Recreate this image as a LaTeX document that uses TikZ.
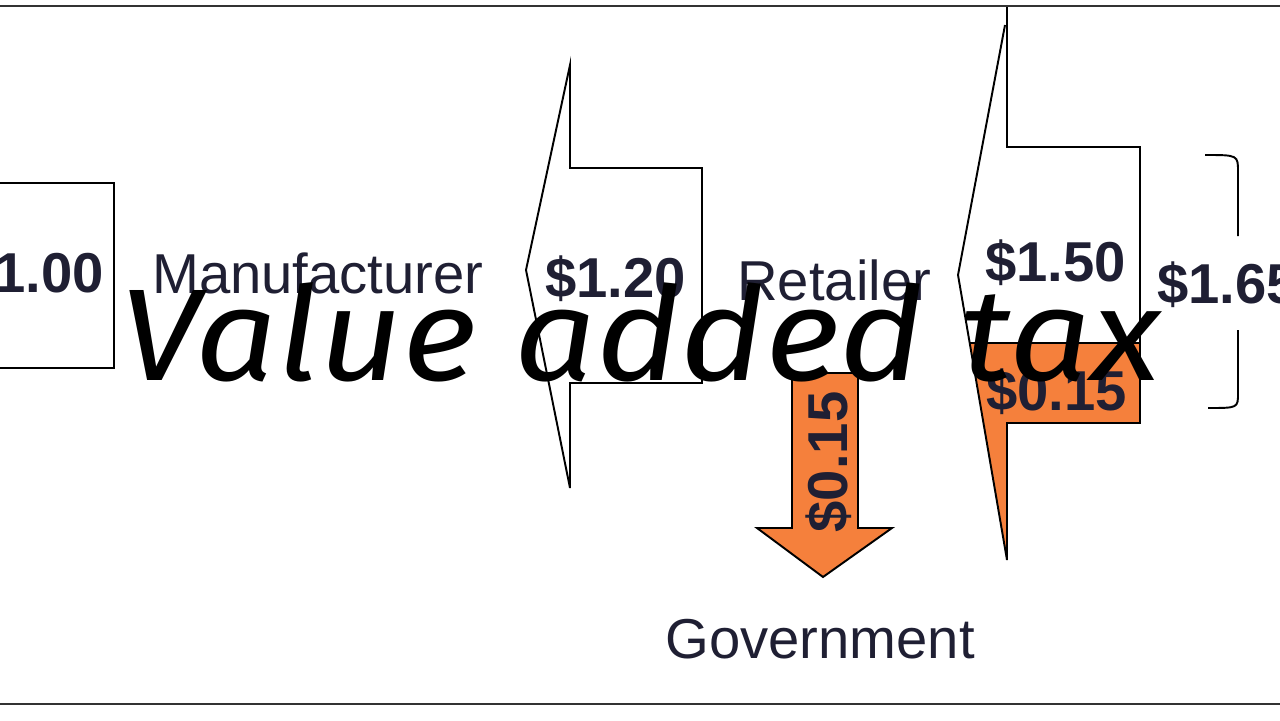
\documentclass[tikz,border=0pt]{standalone}
\usepackage{graphicx}
\usepackage{fontspec}
\setmainfont{Liberation Sans}
\newfontfamily\handfont{Fira Sans}
\usepackage{tikz}
\definecolor{vatOrange}{HTML}{F5803C}
\definecolor{vatInk}{HTML}{1F1F33}
\definecolor{vatFrame}{HTML}{333333}

\begin{document}
\begin{tikzpicture}[x=0.02cm, y=-0.02cm,
      lbl/.style={anchor=base west, inner sep=0pt, text=vatInk,
                  font=\fontsize{32}{38}\selectfont},
      amt/.style={lbl, font=\fontsize{32}{38}\selectfont\bfseries},
      outline/.style={draw=black, line width=1.1pt, line join=miter},
      rule/.style={draw=vatFrame, line width=1.6pt}]
    \useasboundingbox (0,0) rectangle (1280,720);
    \draw[rule] (0,6) -- (1280,6);
    \draw[rule] (0,704) -- (1280,704);
    \draw[outline] (-10,183) -- (114,183) -- (114,368) -- (-10,368);
    \draw[outline] (570,65) -- (570,168) -- (702,168) -- (702,383) -- (570,383)
                   -- (570,488) -- (526,270) -- cycle;
    \fill[vatOrange] (970,343) -- (1140,343) -- (1140,423) -- (1007,423) -- (1007,560) -- cycle;
    \draw[outline] (1007,7) -- (1007,147) -- (1140,147) -- (1140,423) -- (1007,423)
                   -- (1007,560) -- (958,275) -- (1005,25);
    \draw[outline] (970,343) -- (1140,343);
    \filldraw[outline, fill=vatOrange] (792,373) -- (858,373) -- (858,528) -- (892,528)
                   -- (823,577) -- (757,528) -- (792,528) -- cycle;
    \draw[outline] (1205,155) .. controls (1238,155) .. (1238,172) -- (1238,236);
    \draw[outline] (1238,330) -- (1238,393) .. controls (1238,408) .. (1208,408);
    \node[amt, anchor=base east] (prod)   at (104,292) {1.00};
    \node[lbl]                   (manu)   at (152,293) {Manufacturer};
    \node[amt]                   (manuP)  at (545,297) {\$1.20};
    \node[lbl]                   (ret)    at (737,300) {Retailer};
    \node[amt]                   (retP)   at (985,281) {\$1.50};
    \node[amt]                   (retT)   at (986,410) {\$0.15};
    \node[amt]                   (total)  at (1157,303) {\$1.65};
    \node[amt, anchor=center, rotate=90] (govT) at (829,462) {\$0.15};
    \node[lbl]                   (gov)    at (665,658) {Government};
    \node[anchor=base west, inner sep=0pt] (title) at (120,380)
         {\resizebox{20.8cm}{1.96cm}{\handfont\itshape Value added tax}};
  \end{tikzpicture}
\end{document}
